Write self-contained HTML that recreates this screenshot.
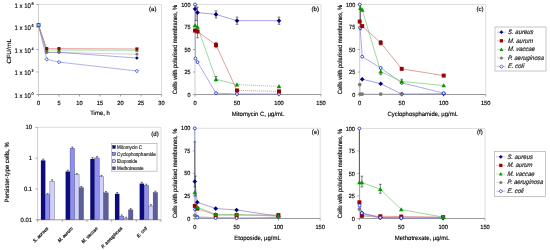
<!DOCTYPE html>
<html><head><meta charset="utf-8"><style>
html,body{margin:0;padding:0;background:#fff;width:550px;height:250px;overflow:hidden}
svg{display:block}
text{font-family:"Liberation Sans",sans-serif;text-rendering:geometricPrecision}
.t{fill:#000;stroke:#000;stroke-width:0.16px}
.l{fill:#111;stroke:#111;stroke-width:0.13px}
.tt{fill:#000;stroke:#000;stroke-width:0.15px}
</style></head><body>
<svg width="550" height="250" viewBox="0 0 550 250" font-family="Liberation Sans, sans-serif">
<defs><filter id="bl" filterUnits="userSpaceOnUse" x="0" y="0" width="550" height="250"><feGaussianBlur stdDeviation="0.3"/></filter></defs>
<rect width="550" height="250" fill="#fff"/>
<path d="M38.5 4.5H161.5V94.5" fill="none" stroke="#d6d6d6" stroke-width="0.8"/>
<path d="M38.5 4.5V94.5" fill="none" stroke="#c8c8c8" stroke-width="0.9"/>
<path d="M38.1 94.5H161.5" fill="none" stroke="#8e8e8e" stroke-width="0.9"/>
<path d="M36.5 94.5H38.5" stroke="#8e8e8e" stroke-width="0.8"/>
<path d="M36.5 72.0H38.5" stroke="#8e8e8e" stroke-width="0.8"/>
<path d="M36.5 49.5H38.5" stroke="#8e8e8e" stroke-width="0.8"/>
<path d="M36.5 27.0H38.5" stroke="#8e8e8e" stroke-width="0.8"/>
<path d="M36.5 4.5H38.5" stroke="#8e8e8e" stroke-width="0.8"/>
<path d="M38.5 94.5V96.5" stroke="#8e8e8e" stroke-width="0.8"/>
<path d="M59.0 94.5V96.5" stroke="#8e8e8e" stroke-width="0.8"/>
<path d="M79.5 94.5V96.5" stroke="#8e8e8e" stroke-width="0.8"/>
<path d="M100.0 94.5V96.5" stroke="#8e8e8e" stroke-width="0.8"/>
<path d="M120.5 94.5V96.5" stroke="#8e8e8e" stroke-width="0.8"/>
<path d="M141.0 94.5V96.5" stroke="#8e8e8e" stroke-width="0.8"/>
<path d="M161.5 94.5V96.5" stroke="#8e8e8e" stroke-width="0.8"/>
<path d="M38.50 25.20L46.70 52.54L59.00 52.54L136.90 54.23" fill="none" stroke="#b0b0b0" stroke-width="0.6"/>
<path d="M38.50 25.20L46.70 52.31L59.00 52.31L136.90 58.05" fill="none" stroke="#7272d6" stroke-width="0.6"/>
<path d="M38.50 25.20L46.70 59.40L59.00 62.10L136.90 70.99" fill="none" stroke="#7c7ce0" stroke-width="0.6"/>
<path d="M38.50 25.20L46.70 49.95L59.00 49.95L136.90 50.29" fill="none" stroke="#6cc46c" stroke-width="0.6"/>
<path d="M38.50 25.20L46.70 48.60L59.00 48.60L136.90 48.94" fill="none" stroke="#d46a6a" stroke-width="0.6"/>
<path d="M46.70 50.51L48.50 52.31L46.70 54.11L44.90 52.31Z" fill="#000080"/>
<path d="M59.00 50.51L60.80 52.31L59.00 54.11L57.20 52.31Z" fill="#000080"/>
<path d="M136.90 56.25L138.70 58.05L136.90 59.85L135.10 58.05Z" fill="#000080"/>
<circle cx="46.70" cy="52.54" r="1.44" fill="#7a7a7a"/>
<circle cx="59.00" cy="52.54" r="1.44" fill="#7a7a7a"/>
<circle cx="136.90" cy="54.23" r="1.44" fill="#7a7a7a"/>
<path d="M46.70 57.74L48.36 59.40L46.70 61.06L45.04 59.40Z" fill="#fff" stroke="#2a3acc" stroke-width="0.85"/>
<path d="M59.00 60.44L60.66 62.10L59.00 63.76L57.34 62.10Z" fill="#fff" stroke="#2a3acc" stroke-width="0.85"/>
<path d="M136.90 69.33L138.56 70.99L136.90 72.64L135.24 70.99Z" fill="#fff" stroke="#2a3acc" stroke-width="0.85"/>
<path d="M46.70 48.15L48.50 51.39L44.90 51.39Z" fill="#009900"/>
<path d="M59.00 48.15L60.80 51.39L57.20 51.39Z" fill="#009900"/>
<path d="M136.90 48.49L138.70 51.73L135.10 51.73Z" fill="#009900"/>
<rect x="45.15" y="47.05" width="3.10" height="3.10" fill="#990000"/>
<rect x="57.45" y="47.05" width="3.10" height="3.10" fill="#990000"/>
<rect x="135.35" y="47.39" width="3.10" height="3.10" fill="#990000"/>
<rect x="37.00" y="23.60" width="3.1" height="3.1" fill="#8fc8f0" stroke="#203080" stroke-width="0.8"/>
<path d="M195.0 4.5H321.0V94.5" fill="none" stroke="#d6d6d6" stroke-width="0.8"/>
<path d="M195.0 4.5V94.5" fill="none" stroke="#c8c8c8" stroke-width="0.9"/>
<path d="M194.6 94.5H321.0" fill="none" stroke="#8e8e8e" stroke-width="0.9"/>
<path d="M193.0 94.5H195.0" stroke="#8e8e8e" stroke-width="0.8"/>
<path d="M193.0 72.0H195.0" stroke="#8e8e8e" stroke-width="0.8"/>
<path d="M193.0 49.5H195.0" stroke="#8e8e8e" stroke-width="0.8"/>
<path d="M193.0 27.0H195.0" stroke="#8e8e8e" stroke-width="0.8"/>
<path d="M193.0 4.5H195.0" stroke="#8e8e8e" stroke-width="0.8"/>
<path d="M195.0 94.5V96.5" stroke="#8e8e8e" stroke-width="0.8"/>
<path d="M237.0 94.5V96.5" stroke="#8e8e8e" stroke-width="0.8"/>
<path d="M279.0 94.5V96.5" stroke="#8e8e8e" stroke-width="0.8"/>
<path d="M321.0 94.5V96.5" stroke="#8e8e8e" stroke-width="0.8"/>
<path d="M195.00 4.50L195.42 58.50L197.52 62.10L216.00 93.15L237.00 94.05L279.00 94.05" fill="none" stroke="#7c7ce0" stroke-width="0.65"/>
<path d="M195.00 25.20L197.52 27.00L216.00 79.20L237.00 84.60" fill="none" stroke="#6cc46c" stroke-width="0.65"/>
<path d="M237.00 84.60L279.00 86.40" fill="none" stroke="#6cc46c" stroke-width="0.65" stroke-dasharray="1.2 0.8"/>
<path d="M195.00 30.60L197.52 31.50L216.00 45.00L237.00 90.45" fill="none" stroke="#d46a6a" stroke-width="0.65"/>
<path d="M237.00 90.45L279.00 91.35" fill="none" stroke="#d46a6a" stroke-width="0.65" stroke-dasharray="1.2 0.8"/>
<path d="M195.00 9.00L197.52 12.60L216.00 14.40L237.00 20.70L279.00 20.70" fill="none" stroke="#7272d6" stroke-width="0.65"/>
<path d="M197.52 7.20V37.80M196.22 7.20h2.6M196.22 37.80h2.6" stroke="#2a2a2a" stroke-width="0.6" fill="none"/>
<path d="M196.01 4.50V20.70M194.71 4.50h2.6M194.71 20.70h2.6" stroke="#2a2a2a" stroke-width="0.6" fill="none"/>
<path d="M216.00 10.80V18.00M214.70 10.80h2.6M214.70 18.00h2.6" stroke="#2a2a2a" stroke-width="0.6" fill="none"/>
<path d="M237.00 17.10V24.30M235.70 17.10h2.6M235.70 24.30h2.6" stroke="#2a2a2a" stroke-width="0.6" fill="none"/>
<path d="M279.00 17.10V24.30M277.70 17.10h2.6M277.70 24.30h2.6" stroke="#2a2a2a" stroke-width="0.6" fill="none"/>
<path d="M216.00 42.30V47.70M214.70 42.30h2.6M214.70 47.70h2.6" stroke="#2a2a2a" stroke-width="0.6" fill="none"/>
<path d="M216.00 76.50V81.00M214.70 76.50h2.6M214.70 81.00h2.6" stroke="#2a2a2a" stroke-width="0.6" fill="none"/>
<circle cx="195.00" cy="4.50" r="1.43" fill="#fff" stroke="#2a3acc" stroke-width="0.9"/>
<circle cx="195.42" cy="58.50" r="1.43" fill="#fff" stroke="#2a3acc" stroke-width="0.9"/>
<circle cx="197.52" cy="62.10" r="1.43" fill="#fff" stroke="#2a3acc" stroke-width="0.9"/>
<circle cx="216.00" cy="93.15" r="1.43" fill="#fff" stroke="#2a3acc" stroke-width="0.9"/>
<circle cx="237.00" cy="94.05" r="1.43" fill="#fff" stroke="#2a3acc" stroke-width="0.9"/>
<circle cx="279.00" cy="94.05" r="1.43" fill="#fff" stroke="#2a3acc" stroke-width="0.9"/>
<path d="M195.00 22.90L197.30 27.04L192.70 27.04Z" fill="#009900"/>
<path d="M197.52 24.70L199.82 28.84L195.22 28.84Z" fill="#009900"/>
<path d="M216.00 76.90L218.30 81.04L213.70 81.04Z" fill="#009900"/>
<path d="M237.00 82.30L239.30 86.44L234.70 86.44Z" fill="#009900"/>
<path d="M279.00 84.10L281.30 88.24L276.70 88.24Z" fill="#009900"/>
<rect x="193.02" y="28.62" width="3.96" height="3.96" fill="#990000"/>
<rect x="195.54" y="29.52" width="3.96" height="3.96" fill="#990000"/>
<rect x="214.02" y="43.02" width="3.96" height="3.96" fill="#990000"/>
<rect x="235.02" y="88.47" width="3.96" height="3.96" fill="#990000"/>
<rect x="277.02" y="89.37" width="3.96" height="3.96" fill="#990000"/>
<path d="M195.00 6.70L197.30 9.00L195.00 11.30L192.70 9.00Z" fill="#000080"/>
<path d="M197.52 10.30L199.82 12.60L197.52 14.90L195.22 12.60Z" fill="#000080"/>
<path d="M216.00 12.10L218.30 14.40L216.00 16.70L213.70 14.40Z" fill="#000080"/>
<path d="M237.00 18.40L239.30 20.70L237.00 23.00L234.70 20.70Z" fill="#000080"/>
<path d="M279.00 18.40L281.30 20.70L279.00 23.00L276.70 20.70Z" fill="#000080"/>
<path d="M359.7 4.5H485.7V94.5" fill="none" stroke="#d6d6d6" stroke-width="0.8"/>
<path d="M359.7 4.5V94.5" fill="none" stroke="#c8c8c8" stroke-width="0.9"/>
<path d="M359.3 94.5H485.7" fill="none" stroke="#8e8e8e" stroke-width="0.9"/>
<path d="M357.7 94.5H359.7" stroke="#8e8e8e" stroke-width="0.8"/>
<path d="M357.7 72.0H359.7" stroke="#8e8e8e" stroke-width="0.8"/>
<path d="M357.7 49.5H359.7" stroke="#8e8e8e" stroke-width="0.8"/>
<path d="M357.7 27.0H359.7" stroke="#8e8e8e" stroke-width="0.8"/>
<path d="M357.7 4.5H359.7" stroke="#8e8e8e" stroke-width="0.8"/>
<path d="M359.7 94.5V96.5" stroke="#8e8e8e" stroke-width="0.8"/>
<path d="M401.7 94.5V96.5" stroke="#8e8e8e" stroke-width="0.8"/>
<path d="M443.7 94.5V96.5" stroke="#8e8e8e" stroke-width="0.8"/>
<path d="M485.7 94.5V96.5" stroke="#8e8e8e" stroke-width="0.8"/>
<path d="M362.22 79.20L380.70 83.70L401.70 94.05L443.70 93.78" fill="none" stroke="#7272d6" stroke-width="0.65"/>
<path d="M359.70 84.60L360.12 94.05L362.22 94.05L380.70 94.05L401.70 94.05" fill="none" stroke="#b0b0b0" stroke-width="0.65"/>
<path d="M359.70 4.50L360.12 27.90L362.22 56.70L380.70 67.95L401.70 82.80L443.70 93.15" fill="none" stroke="#7c7ce0" stroke-width="0.65"/>
<path d="M360.37 8.10L362.22 9.90L380.70 71.55L401.70 81.45L443.70 85.50" fill="none" stroke="#6cc46c" stroke-width="0.65"/>
<path d="M359.70 21.60L362.22 26.10L380.70 42.75L401.70 68.85L443.70 75.60" fill="none" stroke="#d46a6a" stroke-width="0.65"/>
<path d="M360.54 4.50V29.70M359.24 4.50h2.6M359.24 29.70h2.6" stroke="#2a2a2a" stroke-width="0.6" fill="none"/>
<path d="M380.70 40.50V45.00M379.40 40.50h2.6M379.40 45.00h2.6" stroke="#2a2a2a" stroke-width="0.6" fill="none"/>
<path d="M380.70 68.40V74.70M379.40 68.40h2.6M379.40 74.70h2.6" stroke="#2a2a2a" stroke-width="0.6" fill="none"/>
<path d="M401.70 79.20V83.70M400.40 79.20h2.6M400.40 83.70h2.6" stroke="#2a2a2a" stroke-width="0.6" fill="none"/>
<path d="M362.22 76.90L364.52 79.20L362.22 81.50L359.92 79.20Z" fill="#000080"/>
<path d="M380.70 81.40L383.00 83.70L380.70 86.00L378.40 83.70Z" fill="#000080"/>
<path d="M401.70 91.75L404.00 94.05L401.70 96.35L399.40 94.05Z" fill="#000080"/>
<path d="M443.70 91.48L446.00 93.78L443.70 96.08L441.40 93.78Z" fill="#000080"/>
<circle cx="359.70" cy="84.60" r="1.84" fill="#7a7a7a"/>
<circle cx="360.12" cy="94.05" r="1.84" fill="#7a7a7a"/>
<circle cx="362.22" cy="94.05" r="1.84" fill="#7a7a7a"/>
<circle cx="380.70" cy="94.05" r="1.84" fill="#7a7a7a"/>
<circle cx="401.70" cy="94.05" r="1.84" fill="#7a7a7a"/>
<circle cx="359.70" cy="4.50" r="1.43" fill="#fff" stroke="#2a3acc" stroke-width="0.9"/>
<circle cx="360.12" cy="27.90" r="1.43" fill="#fff" stroke="#2a3acc" stroke-width="0.9"/>
<circle cx="362.22" cy="56.70" r="1.43" fill="#fff" stroke="#2a3acc" stroke-width="0.9"/>
<circle cx="380.70" cy="67.95" r="1.43" fill="#fff" stroke="#2a3acc" stroke-width="0.9"/>
<circle cx="401.70" cy="82.80" r="1.43" fill="#fff" stroke="#2a3acc" stroke-width="0.9"/>
<circle cx="443.70" cy="93.15" r="1.43" fill="#fff" stroke="#2a3acc" stroke-width="0.9"/>
<path d="M360.37 5.80L362.67 9.94L358.07 9.94Z" fill="#009900"/>
<path d="M362.22 7.60L364.52 11.74L359.92 11.74Z" fill="#009900"/>
<path d="M380.70 69.25L383.00 73.39L378.40 73.39Z" fill="#009900"/>
<path d="M401.70 79.15L404.00 83.29L399.40 83.29Z" fill="#009900"/>
<path d="M443.70 83.20L446.00 87.34L441.40 87.34Z" fill="#009900"/>
<rect x="357.72" y="19.62" width="3.96" height="3.96" fill="#990000"/>
<rect x="360.24" y="24.12" width="3.96" height="3.96" fill="#990000"/>
<rect x="378.72" y="40.77" width="3.96" height="3.96" fill="#990000"/>
<rect x="399.72" y="66.87" width="3.96" height="3.96" fill="#990000"/>
<rect x="441.72" y="73.62" width="3.96" height="3.96" fill="#990000"/>
<path d="M194.8 128.3H320.2V218.5" fill="none" stroke="#d6d6d6" stroke-width="0.8"/>
<path d="M194.8 128.3V218.5" fill="none" stroke="#c8c8c8" stroke-width="0.9"/>
<path d="M194.4 218.5H320.2" fill="none" stroke="#8e8e8e" stroke-width="0.9"/>
<path d="M192.8 218.5H194.8" stroke="#8e8e8e" stroke-width="0.8"/>
<path d="M192.8 195.9H194.8" stroke="#8e8e8e" stroke-width="0.8"/>
<path d="M192.8 173.4H194.8" stroke="#8e8e8e" stroke-width="0.8"/>
<path d="M192.8 150.9H194.8" stroke="#8e8e8e" stroke-width="0.8"/>
<path d="M192.8 128.3H194.8" stroke="#8e8e8e" stroke-width="0.8"/>
<path d="M194.8 218.5V220.5" stroke="#8e8e8e" stroke-width="0.8"/>
<path d="M236.6 218.5V220.5" stroke="#8e8e8e" stroke-width="0.8"/>
<path d="M278.4 218.5V220.5" stroke="#8e8e8e" stroke-width="0.8"/>
<path d="M320.2 218.5V220.5" stroke="#8e8e8e" stroke-width="0.8"/>
<path d="M194.80 215.34L197.31 216.70L215.70 217.60L236.60 217.60" fill="none" stroke="#b0b0b0" stroke-width="0.65"/>
<path d="M194.80 128.30L195.05 209.48L197.31 217.60L215.70 218.05L236.60 218.05L278.40 217.42" fill="none" stroke="#7c7ce0" stroke-width="0.65"/>
<path d="M194.80 181.52L197.31 202.26L215.70 208.58L236.60 209.93L278.40 216.25" fill="none" stroke="#7272d6" stroke-width="0.65"/>
<path d="M194.80 205.87L197.31 208.58L215.70 215.07L236.60 215.07L278.40 215.07" fill="none" stroke="#d46a6a" stroke-width="0.65"/>
<path d="M194.80 192.34L197.31 207.22L215.70 214.35L236.60 214.53L278.40 216.15" fill="none" stroke="#6cc46c" stroke-width="0.65"/>
<path d="M194.80 141.83V186.93M193.50 141.83h2.6M193.50 186.93h2.6" stroke="#2a2a2a" stroke-width="0.6" fill="none"/>
<path d="M195.30 176.11V195.95M194.00 176.11h2.6M194.00 195.95h2.6" stroke="#2a2a2a" stroke-width="0.6" fill="none"/>
<circle cx="194.80" cy="215.34" r="1.84" fill="#7a7a7a"/>
<circle cx="197.31" cy="216.70" r="1.84" fill="#7a7a7a"/>
<circle cx="215.70" cy="217.60" r="1.84" fill="#7a7a7a"/>
<circle cx="236.60" cy="217.60" r="1.84" fill="#7a7a7a"/>
<circle cx="194.80" cy="128.30" r="1.43" fill="#fff" stroke="#2a3acc" stroke-width="0.9"/>
<circle cx="195.05" cy="209.48" r="1.43" fill="#fff" stroke="#2a3acc" stroke-width="0.9"/>
<circle cx="197.31" cy="217.60" r="1.43" fill="#fff" stroke="#2a3acc" stroke-width="0.9"/>
<circle cx="215.70" cy="218.05" r="1.43" fill="#fff" stroke="#2a3acc" stroke-width="0.9"/>
<circle cx="236.60" cy="218.05" r="1.43" fill="#fff" stroke="#2a3acc" stroke-width="0.9"/>
<circle cx="278.40" cy="217.42" r="1.43" fill="#fff" stroke="#2a3acc" stroke-width="0.9"/>
<path d="M194.80 179.22L197.10 181.52L194.80 183.82L192.50 181.52Z" fill="#000080"/>
<path d="M197.31 199.96L199.61 202.26L197.31 204.56L195.01 202.26Z" fill="#000080"/>
<path d="M215.70 206.28L218.00 208.58L215.70 210.88L213.40 208.58Z" fill="#000080"/>
<path d="M236.60 207.63L238.90 209.93L236.60 212.23L234.30 209.93Z" fill="#000080"/>
<path d="M278.40 213.94L280.70 216.25L278.40 218.55L276.10 216.25Z" fill="#000080"/>
<rect x="192.82" y="203.89" width="3.96" height="3.96" fill="#990000"/>
<rect x="195.33" y="206.60" width="3.96" height="3.96" fill="#990000"/>
<rect x="213.72" y="213.09" width="3.96" height="3.96" fill="#990000"/>
<rect x="234.62" y="213.09" width="3.96" height="3.96" fill="#990000"/>
<rect x="276.42" y="213.09" width="3.96" height="3.96" fill="#990000"/>
<path d="M194.80 190.04L197.10 194.18L192.50 194.18Z" fill="#009900"/>
<path d="M197.31 204.92L199.61 209.06L195.01 209.06Z" fill="#009900"/>
<path d="M215.70 212.05L218.00 216.19L213.40 216.19Z" fill="#009900"/>
<path d="M236.60 212.23L238.90 216.37L234.30 216.37Z" fill="#009900"/>
<path d="M278.40 213.85L280.70 217.99L276.10 217.99Z" fill="#009900"/>
<path d="M359.4 128.5H485.0V218.5" fill="none" stroke="#d6d6d6" stroke-width="0.8"/>
<path d="M359.4 128.5V218.5" fill="none" stroke="#c8c8c8" stroke-width="0.9"/>
<path d="M359.0 218.5H485.0" fill="none" stroke="#8e8e8e" stroke-width="0.9"/>
<path d="M357.4 218.5H359.4" stroke="#8e8e8e" stroke-width="0.8"/>
<path d="M357.4 196.0H359.4" stroke="#8e8e8e" stroke-width="0.8"/>
<path d="M357.4 173.5H359.4" stroke="#8e8e8e" stroke-width="0.8"/>
<path d="M357.4 151.0H359.4" stroke="#8e8e8e" stroke-width="0.8"/>
<path d="M357.4 128.5H359.4" stroke="#8e8e8e" stroke-width="0.8"/>
<path d="M359.4 218.5V220.5" stroke="#8e8e8e" stroke-width="0.8"/>
<path d="M401.3 218.5V220.5" stroke="#8e8e8e" stroke-width="0.8"/>
<path d="M443.1 218.5V220.5" stroke="#8e8e8e" stroke-width="0.8"/>
<path d="M485.0 218.5V220.5" stroke="#8e8e8e" stroke-width="0.8"/>
<path d="M359.40 209.05L361.91 215.80L380.33 217.60L401.27 217.60" fill="none" stroke="#b0b0b0" stroke-width="0.65"/>
<path d="M359.40 202.30L361.91 215.80L380.33 216.25L401.27 216.52L443.13 217.15" fill="none" stroke="#d46a6a" stroke-width="0.65"/>
<path d="M361.91 213.10L380.33 217.60L401.27 218.05L443.13 218.05" fill="none" stroke="#7272d6" stroke-width="0.65"/>
<path d="M359.40 128.50L359.65 205.45L361.91 213.10L380.33 217.60L401.27 218.05L443.13 217.60" fill="none" stroke="#7c7ce0" stroke-width="0.65"/>
<path d="M359.40 182.50L361.91 182.50L380.33 189.25L401.27 209.50L443.13 217.15" fill="none" stroke="#6cc46c" stroke-width="0.65"/>
<path d="M359.40 128.50V182.50M358.10 128.50h2.6M358.10 182.50h2.6" stroke="#2a2a2a" stroke-width="0.6" fill="none"/>
<path d="M361.91 176.20V187.00M360.61 176.20h2.6M360.61 187.00h2.6" stroke="#2a2a2a" stroke-width="0.6" fill="none"/>
<path d="M380.33 184.30V193.30M379.03 184.30h2.6M379.03 193.30h2.6" stroke="#2a2a2a" stroke-width="0.6" fill="none"/>
<circle cx="359.40" cy="209.05" r="1.84" fill="#7a7a7a"/>
<circle cx="361.91" cy="215.80" r="1.84" fill="#7a7a7a"/>
<circle cx="380.33" cy="217.60" r="1.84" fill="#7a7a7a"/>
<circle cx="401.27" cy="217.60" r="1.84" fill="#7a7a7a"/>
<rect x="357.42" y="200.32" width="3.96" height="3.96" fill="#990000"/>
<rect x="359.93" y="213.82" width="3.96" height="3.96" fill="#990000"/>
<rect x="378.36" y="214.27" width="3.96" height="3.96" fill="#990000"/>
<rect x="399.29" y="214.54" width="3.96" height="3.96" fill="#990000"/>
<rect x="441.16" y="215.17" width="3.96" height="3.96" fill="#990000"/>
<path d="M361.91 210.80L364.21 213.10L361.91 215.40L359.61 213.10Z" fill="#000080"/>
<path d="M380.33 215.30L382.63 217.60L380.33 219.90L378.03 217.60Z" fill="#000080"/>
<path d="M401.27 215.75L403.57 218.05L401.27 220.35L398.97 218.05Z" fill="#000080"/>
<path d="M443.13 215.75L445.43 218.05L443.13 220.35L440.83 218.05Z" fill="#000080"/>
<circle cx="359.40" cy="128.50" r="1.43" fill="#fff" stroke="#2a3acc" stroke-width="0.9"/>
<circle cx="359.65" cy="205.45" r="1.43" fill="#fff" stroke="#2a3acc" stroke-width="0.9"/>
<circle cx="361.91" cy="213.10" r="1.43" fill="#fff" stroke="#2a3acc" stroke-width="0.9"/>
<circle cx="380.33" cy="217.60" r="1.43" fill="#fff" stroke="#2a3acc" stroke-width="0.9"/>
<circle cx="401.27" cy="218.05" r="1.43" fill="#fff" stroke="#2a3acc" stroke-width="0.9"/>
<circle cx="443.13" cy="217.60" r="1.43" fill="#fff" stroke="#2a3acc" stroke-width="0.9"/>
<path d="M359.40 180.20L361.70 184.34L357.10 184.34Z" fill="#009900"/>
<path d="M361.91 180.20L364.21 184.34L359.61 184.34Z" fill="#009900"/>
<path d="M380.33 186.95L382.63 191.09L378.03 191.09Z" fill="#009900"/>
<path d="M401.27 207.20L403.57 211.34L398.97 211.34Z" fill="#009900"/>
<path d="M443.13 214.85L445.43 218.99L440.83 218.99Z" fill="#009900"/>
<path d="M37.6 127.4H161.0V219.8" fill="none" stroke="#d6d6d6" stroke-width="0.8"/>
<path d="M37.6 127.4V219.8" fill="none" stroke="#c8c8c8" stroke-width="0.9"/>
<path d="M37.2 219.8H161.0" fill="none" stroke="#8e8e8e" stroke-width="0.9"/>
<path d="M35.6 219.8H37.6" stroke="#8e8e8e" stroke-width="0.8"/>
<path d="M35.6 189.0H37.6" stroke="#8e8e8e" stroke-width="0.8"/>
<path d="M35.6 158.2H37.6" stroke="#8e8e8e" stroke-width="0.8"/>
<path d="M35.6 127.4H37.6" stroke="#8e8e8e" stroke-width="0.8"/>
<path d="M37.6 219.8V221.8" stroke="#8e8e8e" stroke-width="0.8"/>
<path d="M62.3 219.8V221.8" stroke="#8e8e8e" stroke-width="0.8"/>
<path d="M87.0 219.8V221.8" stroke="#8e8e8e" stroke-width="0.8"/>
<path d="M111.6 219.8V221.8" stroke="#8e8e8e" stroke-width="0.8"/>
<path d="M136.3 219.8V221.8" stroke="#8e8e8e" stroke-width="0.8"/>
<path d="M161.0 219.8V221.8" stroke="#8e8e8e" stroke-width="0.8"/>
<rect x="40.90" y="160.37" width="4.50" height="59.43" fill="#0c0c7c"/>
<path d="M43.15 159.07V160.37M42.15 159.07h2" stroke="#222" stroke-width="0.6"/>
<rect x="45.40" y="194.76" width="4.50" height="25.04" fill="#8f8ff0" stroke="#3a3a70" stroke-width="0.35"/>
<path d="M47.65 193.46V194.76M46.65 193.46h2" stroke="#222" stroke-width="0.6"/>
<rect x="49.90" y="181.14" width="4.50" height="38.66" fill="#d0d0fa" stroke="#3a3a70" stroke-width="0.35"/>
<path d="M52.15 179.84V181.14M51.15 179.84h2" stroke="#222" stroke-width="0.6"/>
<rect x="65.58" y="171.50" width="4.50" height="48.30" fill="#0c0c7c"/>
<path d="M67.83 170.20V171.50M66.83 170.20h2" stroke="#222" stroke-width="0.6"/>
<rect x="70.08" y="148.28" width="4.50" height="71.52" fill="#8f8ff0" stroke="#3a3a70" stroke-width="0.35"/>
<path d="M72.33 146.98V148.28M71.33 146.98h2" stroke="#222" stroke-width="0.6"/>
<rect x="74.58" y="174.76" width="4.50" height="45.04" fill="#d0d0fa" stroke="#3a3a70" stroke-width="0.35"/>
<path d="M76.83 173.46V174.76M75.83 173.46h2" stroke="#222" stroke-width="0.6"/>
<rect x="79.08" y="187.73" width="4.50" height="32.07" fill="#5e5e98" stroke="#3a3a70" stroke-width="0.35"/>
<path d="M81.33 186.43V187.73M80.33 186.43h2" stroke="#222" stroke-width="0.6"/>
<rect x="90.26" y="158.89" width="4.50" height="60.91" fill="#0c0c7c"/>
<path d="M92.51 157.59V158.89M91.51 157.59h2" stroke="#222" stroke-width="0.6"/>
<rect x="94.76" y="157.94" width="4.50" height="61.86" fill="#8f8ff0" stroke="#3a3a70" stroke-width="0.35"/>
<path d="M97.01 156.64V157.94M96.01 156.64h2" stroke="#222" stroke-width="0.6"/>
<rect x="99.26" y="176.74" width="4.50" height="43.06" fill="#d0d0fa" stroke="#3a3a70" stroke-width="0.35"/>
<path d="M101.51 175.44V176.74M100.51 175.44h2" stroke="#222" stroke-width="0.6"/>
<rect x="103.76" y="192.85" width="4.50" height="26.95" fill="#5e5e98" stroke="#3a3a70" stroke-width="0.35"/>
<path d="M106.01 191.55V192.85M105.01 191.55h2" stroke="#222" stroke-width="0.6"/>
<rect x="114.94" y="193.77" width="4.50" height="26.03" fill="#0c0c7c"/>
<path d="M117.19 192.47V193.77M116.19 192.47h2" stroke="#222" stroke-width="0.6"/>
<rect x="119.44" y="216.29" width="4.50" height="3.51" fill="#8f8ff0" stroke="#3a3a70" stroke-width="0.35"/>
<path d="M121.69 214.99V216.29M120.69 214.99h2" stroke="#222" stroke-width="0.6"/>
<rect x="123.94" y="218.53" width="4.50" height="1.27" fill="#d0d0fa" stroke="#3a3a70" stroke-width="0.35"/>
<path d="M126.19 217.23V218.53M125.19 217.23h2" stroke="#222" stroke-width="0.6"/>
<rect x="128.44" y="209.88" width="4.50" height="9.92" fill="#5e5e98" stroke="#3a3a70" stroke-width="0.35"/>
<path d="M130.69 208.58V209.88M129.69 208.58h2" stroke="#222" stroke-width="0.6"/>
<rect x="139.62" y="183.58" width="4.50" height="36.22" fill="#0c0c7c"/>
<path d="M141.87 182.28V183.58M140.87 182.28h2" stroke="#222" stroke-width="0.6"/>
<rect x="144.12" y="185.49" width="4.50" height="34.31" fill="#8f8ff0" stroke="#3a3a70" stroke-width="0.35"/>
<path d="M146.37 184.19V185.49M145.37 184.19h2" stroke="#222" stroke-width="0.6"/>
<rect x="148.62" y="206.03" width="4.50" height="13.77" fill="#d0d0fa" stroke="#3a3a70" stroke-width="0.35"/>
<path d="M150.87 204.73V206.03M149.87 204.73h2" stroke="#222" stroke-width="0.6"/>
<rect x="153.12" y="192.50" width="4.50" height="27.30" fill="#5e5e98" stroke="#3a3a70" stroke-width="0.35"/>
<path d="M155.37 191.20V192.50M154.37 191.20h2" stroke="#222" stroke-width="0.6"/>
<rect x="111.6" y="143.6" width="45.4" height="27.6" fill="#fff" stroke="#adadad" stroke-width="0.7"/>
<rect x="112.60" y="145.60" width="2.8" height="2.8" fill="#0c0c7c" stroke="#202060" stroke-width="0.5"/>
<rect x="112.60" y="152.70" width="2.8" height="2.8" fill="#8f8ff0" stroke="#202060" stroke-width="0.5"/>
<rect x="112.60" y="159.80" width="2.8" height="2.8" fill="#d0d0fa" stroke="#202060" stroke-width="0.5"/>
<rect x="112.60" y="166.90" width="2.8" height="2.8" fill="#5e5e98" stroke="#202060" stroke-width="0.5"/>
<rect x="495.0" y="27.0" width="51.0" height="44.0" fill="#fff" stroke="#adadad" stroke-width="0.7"/>
<path d="M496.80 32.20H506.00" stroke="#7272d6" stroke-width="0.7" stroke-opacity="0.6"/>
<path d="M501.40 30.30L503.30 32.20L501.40 34.10L499.50 32.20Z" fill="#000080"/>
<path d="M496.80 40.80H506.00" stroke="#d46a6a" stroke-width="0.7" stroke-opacity="0.6"/>
<rect x="499.77" y="39.17" width="3.27" height="3.27" fill="#990000"/>
<path d="M496.80 49.40H506.00" stroke="#6cc46c" stroke-width="0.7" stroke-opacity="0.6"/>
<path d="M501.40 47.50L503.30 50.92L499.50 50.92Z" fill="#009900"/>
<path d="M496.80 58.00H506.00" stroke="#b0b0b0" stroke-width="0.7" stroke-opacity="0.6"/>
<circle cx="501.40" cy="58.00" r="1.52" fill="#7a7a7a"/>
<path d="M496.80 66.60H506.00" stroke="#7c7ce0" stroke-width="0.7" stroke-opacity="0.6"/>
<path d="M501.40 64.85L503.15 66.60L501.40 68.35L499.65 66.60Z" fill="#fff" stroke="#2a3acc" stroke-width="0.85"/>
<rect x="494.4" y="151.6" width="51.2" height="44.8" fill="#fff" stroke="#adadad" stroke-width="0.7"/>
<path d="M496.20 156.80H505.40" stroke="#7272d6" stroke-width="0.7" stroke-opacity="0.6"/>
<path d="M500.80 154.90L502.70 156.80L500.80 158.70L498.90 156.80Z" fill="#000080"/>
<path d="M496.20 165.40H505.40" stroke="#d46a6a" stroke-width="0.7" stroke-opacity="0.6"/>
<rect x="499.17" y="163.77" width="3.27" height="3.27" fill="#990000"/>
<path d="M496.20 174.00H505.40" stroke="#6cc46c" stroke-width="0.7" stroke-opacity="0.6"/>
<path d="M500.80 172.10L502.70 175.52L498.90 175.52Z" fill="#009900"/>
<path d="M496.20 182.60H505.40" stroke="#b0b0b0" stroke-width="0.7" stroke-opacity="0.6"/>
<circle cx="500.80" cy="182.60" r="1.52" fill="#7a7a7a"/>
<path d="M496.20 191.20H505.40" stroke="#7c7ce0" stroke-width="0.7" stroke-opacity="0.6"/>
<path d="M500.80 189.45L502.55 191.20L500.80 192.95L499.05 191.20Z" fill="#fff" stroke="#2a3acc" stroke-width="0.85"/>
<g filter="url(#bl)">
<text class="t" x="30.90" y="97.50" font-size="6.7" text-anchor="end" textLength="16.34" lengthAdjust="spacingAndGlyphs">1 x 10</text>
<text class="tt" x="31.40" y="94.90" font-size="3.8" text-anchor="start">0</text>
<text class="t" x="30.90" y="75.00" font-size="6.7" text-anchor="end" textLength="16.34" lengthAdjust="spacingAndGlyphs">1 x 10</text>
<text class="tt" x="31.40" y="72.40" font-size="3.8" text-anchor="start">2</text>
<text class="t" x="30.90" y="52.50" font-size="6.7" text-anchor="end" textLength="16.34" lengthAdjust="spacingAndGlyphs">1 x 10</text>
<text class="tt" x="31.40" y="49.90" font-size="3.8" text-anchor="start">4</text>
<text class="t" x="30.90" y="30.00" font-size="6.7" text-anchor="end" textLength="16.34" lengthAdjust="spacingAndGlyphs">1 x 10</text>
<text class="tt" x="31.40" y="27.40" font-size="3.8" text-anchor="start">6</text>
<text class="t" x="30.90" y="7.50" font-size="6.7" text-anchor="end" textLength="16.34" lengthAdjust="spacingAndGlyphs">1 x 10</text>
<text class="tt" x="31.40" y="4.90" font-size="3.8" text-anchor="start">8</text>
<text class="t" x="38.50" y="105.00" font-size="6.0" text-anchor="middle" textLength="3.17" lengthAdjust="spacingAndGlyphs">0</text>
<text class="t" x="59.00" y="105.00" font-size="6.0" text-anchor="middle" textLength="3.17" lengthAdjust="spacingAndGlyphs">5</text>
<text class="t" x="79.50" y="105.00" font-size="6.0" text-anchor="middle" textLength="6.34" lengthAdjust="spacingAndGlyphs">10</text>
<text class="t" x="100.00" y="105.00" font-size="6.0" text-anchor="middle" textLength="6.34" lengthAdjust="spacingAndGlyphs">15</text>
<text class="t" x="120.50" y="105.00" font-size="6.0" text-anchor="middle" textLength="6.34" lengthAdjust="spacingAndGlyphs">20</text>
<text class="t" x="141.00" y="105.00" font-size="6.0" text-anchor="middle" textLength="6.34" lengthAdjust="spacingAndGlyphs">25</text>
<text class="t" x="161.50" y="105.00" font-size="6.0" text-anchor="middle" textLength="6.34" lengthAdjust="spacingAndGlyphs">30</text>
<text class="tt" x="100.00" y="114.90" font-size="6.2" text-anchor="middle" textLength="19.62" lengthAdjust="spacingAndGlyphs">Time, h</text>
<text class="tt" transform="translate(11.20,51.20) rotate(-90)" font-size="6.0" text-anchor="middle" textLength="24.57" lengthAdjust="spacingAndGlyphs">CFU/mL</text>
<text class="tt" x="152.80" y="11.00" font-size="6.1" text-anchor="middle" >(a)</text>
<text class="t" x="190.50" y="96.50" font-size="6.0" text-anchor="end" textLength="3.06" lengthAdjust="spacingAndGlyphs">0</text>
<text class="t" x="190.50" y="74.00" font-size="6.0" text-anchor="end" textLength="6.12" lengthAdjust="spacingAndGlyphs">25</text>
<text class="t" x="190.50" y="51.50" font-size="6.0" text-anchor="end" textLength="6.12" lengthAdjust="spacingAndGlyphs">50</text>
<text class="t" x="190.50" y="29.00" font-size="6.0" text-anchor="end" textLength="6.12" lengthAdjust="spacingAndGlyphs">75</text>
<text class="t" x="190.50" y="6.50" font-size="6.0" text-anchor="end" textLength="9.18" lengthAdjust="spacingAndGlyphs">100</text>
<text class="t" x="195.00" y="105.00" font-size="6.0" text-anchor="middle" textLength="3.17" lengthAdjust="spacingAndGlyphs">0</text>
<text class="t" x="237.00" y="105.00" font-size="6.0" text-anchor="middle" textLength="6.34" lengthAdjust="spacingAndGlyphs">50</text>
<text class="t" x="279.00" y="105.00" font-size="6.0" text-anchor="middle" textLength="9.51" lengthAdjust="spacingAndGlyphs">100</text>
<text class="t" x="321.00" y="105.00" font-size="6.0" text-anchor="middle" textLength="9.51" lengthAdjust="spacingAndGlyphs">150</text>
<text class="tt" x="258.00" y="115.80" font-size="6.2" text-anchor="middle" textLength="52.69" lengthAdjust="spacingAndGlyphs">Mitomycin C, µg/mL</text>
<text class="tt" transform="translate(176.90,49.50) rotate(-90)" font-size="6.2" text-anchor="middle" textLength="89.33" lengthAdjust="spacingAndGlyphs">Cells with polarised membranes, %</text>
<text class="tt" x="315.30" y="11.00" font-size="6.1" text-anchor="middle" >(b)</text>
<text class="t" x="355.20" y="96.50" font-size="6.0" text-anchor="end" textLength="3.06" lengthAdjust="spacingAndGlyphs">0</text>
<text class="t" x="355.20" y="74.00" font-size="6.0" text-anchor="end" textLength="6.12" lengthAdjust="spacingAndGlyphs">25</text>
<text class="t" x="355.20" y="51.50" font-size="6.0" text-anchor="end" textLength="6.12" lengthAdjust="spacingAndGlyphs">50</text>
<text class="t" x="355.20" y="29.00" font-size="6.0" text-anchor="end" textLength="6.12" lengthAdjust="spacingAndGlyphs">75</text>
<text class="t" x="355.20" y="6.50" font-size="6.0" text-anchor="end" textLength="9.18" lengthAdjust="spacingAndGlyphs">100</text>
<text class="t" x="359.70" y="105.00" font-size="6.0" text-anchor="middle" textLength="3.17" lengthAdjust="spacingAndGlyphs">0</text>
<text class="t" x="401.70" y="105.00" font-size="6.0" text-anchor="middle" textLength="6.34" lengthAdjust="spacingAndGlyphs">50</text>
<text class="t" x="443.70" y="105.00" font-size="6.0" text-anchor="middle" textLength="9.51" lengthAdjust="spacingAndGlyphs">100</text>
<text class="t" x="485.70" y="105.00" font-size="6.0" text-anchor="middle" textLength="9.51" lengthAdjust="spacingAndGlyphs">150</text>
<text class="tt" x="422.70" y="115.80" font-size="6.2" text-anchor="middle" textLength="70.57" lengthAdjust="spacingAndGlyphs">Cyclophosphamide, µg/mL</text>
<text class="tt" transform="translate(341.80,49.50) rotate(-90)" font-size="6.2" text-anchor="middle" textLength="89.33" lengthAdjust="spacingAndGlyphs">Cells with polarised membranes, %</text>
<text class="tt" x="480.00" y="11.00" font-size="6.1" text-anchor="middle" >(c)</text>
<text class="t" x="190.30" y="220.50" font-size="6.0" text-anchor="end" textLength="3.06" lengthAdjust="spacingAndGlyphs">0</text>
<text class="t" x="190.30" y="197.95" font-size="6.0" text-anchor="end" textLength="6.12" lengthAdjust="spacingAndGlyphs">25</text>
<text class="t" x="190.30" y="175.40" font-size="6.0" text-anchor="end" textLength="6.12" lengthAdjust="spacingAndGlyphs">50</text>
<text class="t" x="190.30" y="152.85" font-size="6.0" text-anchor="end" textLength="6.12" lengthAdjust="spacingAndGlyphs">75</text>
<text class="t" x="190.30" y="130.30" font-size="6.0" text-anchor="end" textLength="9.18" lengthAdjust="spacingAndGlyphs">100</text>
<text class="t" x="194.80" y="229.00" font-size="6.0" text-anchor="middle" textLength="3.17" lengthAdjust="spacingAndGlyphs">0</text>
<text class="t" x="236.60" y="229.00" font-size="6.0" text-anchor="middle" textLength="6.34" lengthAdjust="spacingAndGlyphs">50</text>
<text class="t" x="278.40" y="229.00" font-size="6.0" text-anchor="middle" textLength="9.51" lengthAdjust="spacingAndGlyphs">100</text>
<text class="t" x="320.20" y="229.00" font-size="6.0" text-anchor="middle" textLength="9.51" lengthAdjust="spacingAndGlyphs">150</text>
<text class="tt" x="257.50" y="240.30" font-size="6.2" text-anchor="middle" textLength="46.43" lengthAdjust="spacingAndGlyphs">Etoposide, µg/mL</text>
<text class="tt" transform="translate(176.70,173.40) rotate(-90)" font-size="6.2" text-anchor="middle" textLength="89.33" lengthAdjust="spacingAndGlyphs">Cells with polarised membranes, %</text>
<text class="tt" x="315.60" y="134.40" font-size="6.1" text-anchor="middle" >(e)</text>
<text class="t" x="354.90" y="220.50" font-size="6.0" text-anchor="end" textLength="3.06" lengthAdjust="spacingAndGlyphs">0</text>
<text class="t" x="354.90" y="198.00" font-size="6.0" text-anchor="end" textLength="6.12" lengthAdjust="spacingAndGlyphs">25</text>
<text class="t" x="354.90" y="175.50" font-size="6.0" text-anchor="end" textLength="6.12" lengthAdjust="spacingAndGlyphs">50</text>
<text class="t" x="354.90" y="153.00" font-size="6.0" text-anchor="end" textLength="6.12" lengthAdjust="spacingAndGlyphs">75</text>
<text class="t" x="354.90" y="130.50" font-size="6.0" text-anchor="end" textLength="9.18" lengthAdjust="spacingAndGlyphs">100</text>
<text class="t" x="359.40" y="229.00" font-size="6.0" text-anchor="middle" textLength="3.17" lengthAdjust="spacingAndGlyphs">0</text>
<text class="t" x="401.27" y="229.00" font-size="6.0" text-anchor="middle" textLength="6.34" lengthAdjust="spacingAndGlyphs">50</text>
<text class="t" x="443.13" y="229.00" font-size="6.0" text-anchor="middle" textLength="9.51" lengthAdjust="spacingAndGlyphs">100</text>
<text class="t" x="485.00" y="229.00" font-size="6.0" text-anchor="middle" textLength="9.51" lengthAdjust="spacingAndGlyphs">150</text>
<text class="tt" x="422.20" y="240.30" font-size="6.2" text-anchor="middle" textLength="54.69" lengthAdjust="spacingAndGlyphs">Methotrexate, µg/mL</text>
<text class="tt" transform="translate(341.60,173.50) rotate(-90)" font-size="6.2" text-anchor="middle" textLength="89.33" lengthAdjust="spacingAndGlyphs">Cells with polarised membranes, %</text>
<text class="tt" x="479.90" y="134.20" font-size="6.1" text-anchor="middle" >(f)</text>
<text class="t" x="32.10" y="221.80" font-size="6.2" text-anchor="end" textLength="11.48" lengthAdjust="spacingAndGlyphs">0.01</text>
<text class="t" x="32.10" y="191.00" font-size="6.2" text-anchor="end" textLength="8.20" lengthAdjust="spacingAndGlyphs">0.1</text>
<text class="t" x="32.10" y="160.20" font-size="6.2" text-anchor="end" textLength="3.28" lengthAdjust="spacingAndGlyphs">1</text>
<text class="t" x="32.10" y="129.40" font-size="6.2" text-anchor="end" textLength="6.56" lengthAdjust="spacingAndGlyphs">10</text>
<text class="l" transform="translate(48.64,228.80) rotate(-45)" font-size="4.6" text-anchor="end" font-style="italic" style="stroke-width:0.22px">S. aureus</text>
<text class="l" transform="translate(73.32,228.80) rotate(-45)" font-size="4.6" text-anchor="end" font-style="italic" style="stroke-width:0.22px">M. aurum</text>
<text class="l" transform="translate(98.00,228.80) rotate(-45)" font-size="4.6" text-anchor="end" font-style="italic" style="stroke-width:0.22px">M. vaccae</text>
<text class="l" transform="translate(122.68,228.80) rotate(-45)" font-size="4.6" text-anchor="end" font-style="italic" style="stroke-width:0.22px">P. aeruginosa</text>
<text class="l" transform="translate(147.36,228.80) rotate(-45)" font-size="4.6" text-anchor="end" font-style="italic" style="stroke-width:0.22px">E. coli</text>
<text class="tt" transform="translate(8.80,172.30) rotate(-90)" font-size="6.2" text-anchor="middle" textLength="60.34" lengthAdjust="spacingAndGlyphs">Persister-type cells, %</text>
<text class="tt" x="155.00" y="136.00" font-size="6.1" text-anchor="middle" >(d)</text>
<text class="l" x="117.10" y="148.90" font-size="5.3" text-anchor="start" textLength="25.03" lengthAdjust="spacingAndGlyphs">Mitomycin C</text>
<text class="l" x="117.10" y="156.00" font-size="5.3" text-anchor="start" textLength="38.70" lengthAdjust="spacingAndGlyphs">Cyclophosphamide</text>
<text class="l" x="117.10" y="163.10" font-size="5.3" text-anchor="start" textLength="20.24" lengthAdjust="spacingAndGlyphs">Etoposide</text>
<text class="l" x="117.10" y="170.20" font-size="5.3" text-anchor="start" textLength="26.56" lengthAdjust="spacingAndGlyphs">Methotrexate</text>
<text class="l" transform="translate(507.80,34.00) skewX(-7)" font-size="6.4" textLength="25.47" lengthAdjust="spacingAndGlyphs" font-style="italic">S. aureus</text>
<text class="l" transform="translate(507.80,42.60) skewX(-7)" font-size="6.4" textLength="25.13" lengthAdjust="spacingAndGlyphs" font-style="italic">M. aurum</text>
<text class="l" transform="translate(507.80,51.20) skewX(-7)" font-size="6.4" textLength="27.12" lengthAdjust="spacingAndGlyphs" font-style="italic">M. vaccae</text>
<text class="l" transform="translate(507.80,59.80) skewX(-7)" font-size="6.4" textLength="35.95" lengthAdjust="spacingAndGlyphs" font-style="italic">P. aeruginosa</text>
<text class="l" transform="translate(507.80,68.40) skewX(-7)" font-size="6.4" textLength="16.20" lengthAdjust="spacingAndGlyphs" font-style="italic">E. coli</text>
<text class="l" transform="translate(507.20,158.60) skewX(-7)" font-size="6.4" textLength="25.47" lengthAdjust="spacingAndGlyphs" font-style="italic">S. aureus</text>
<text class="l" transform="translate(507.20,167.20) skewX(-7)" font-size="6.4" textLength="25.13" lengthAdjust="spacingAndGlyphs" font-style="italic">M. aurum</text>
<text class="l" transform="translate(507.20,175.80) skewX(-7)" font-size="6.4" textLength="27.12" lengthAdjust="spacingAndGlyphs" font-style="italic">M. vaccae</text>
<text class="l" transform="translate(507.20,184.40) skewX(-7)" font-size="6.4" textLength="35.95" lengthAdjust="spacingAndGlyphs" font-style="italic">P. aeruginosa</text>
<text class="l" transform="translate(507.20,193.00) skewX(-7)" font-size="6.4" textLength="16.20" lengthAdjust="spacingAndGlyphs" font-style="italic">E. coli</text>
</g>
</svg>
</body></html>
